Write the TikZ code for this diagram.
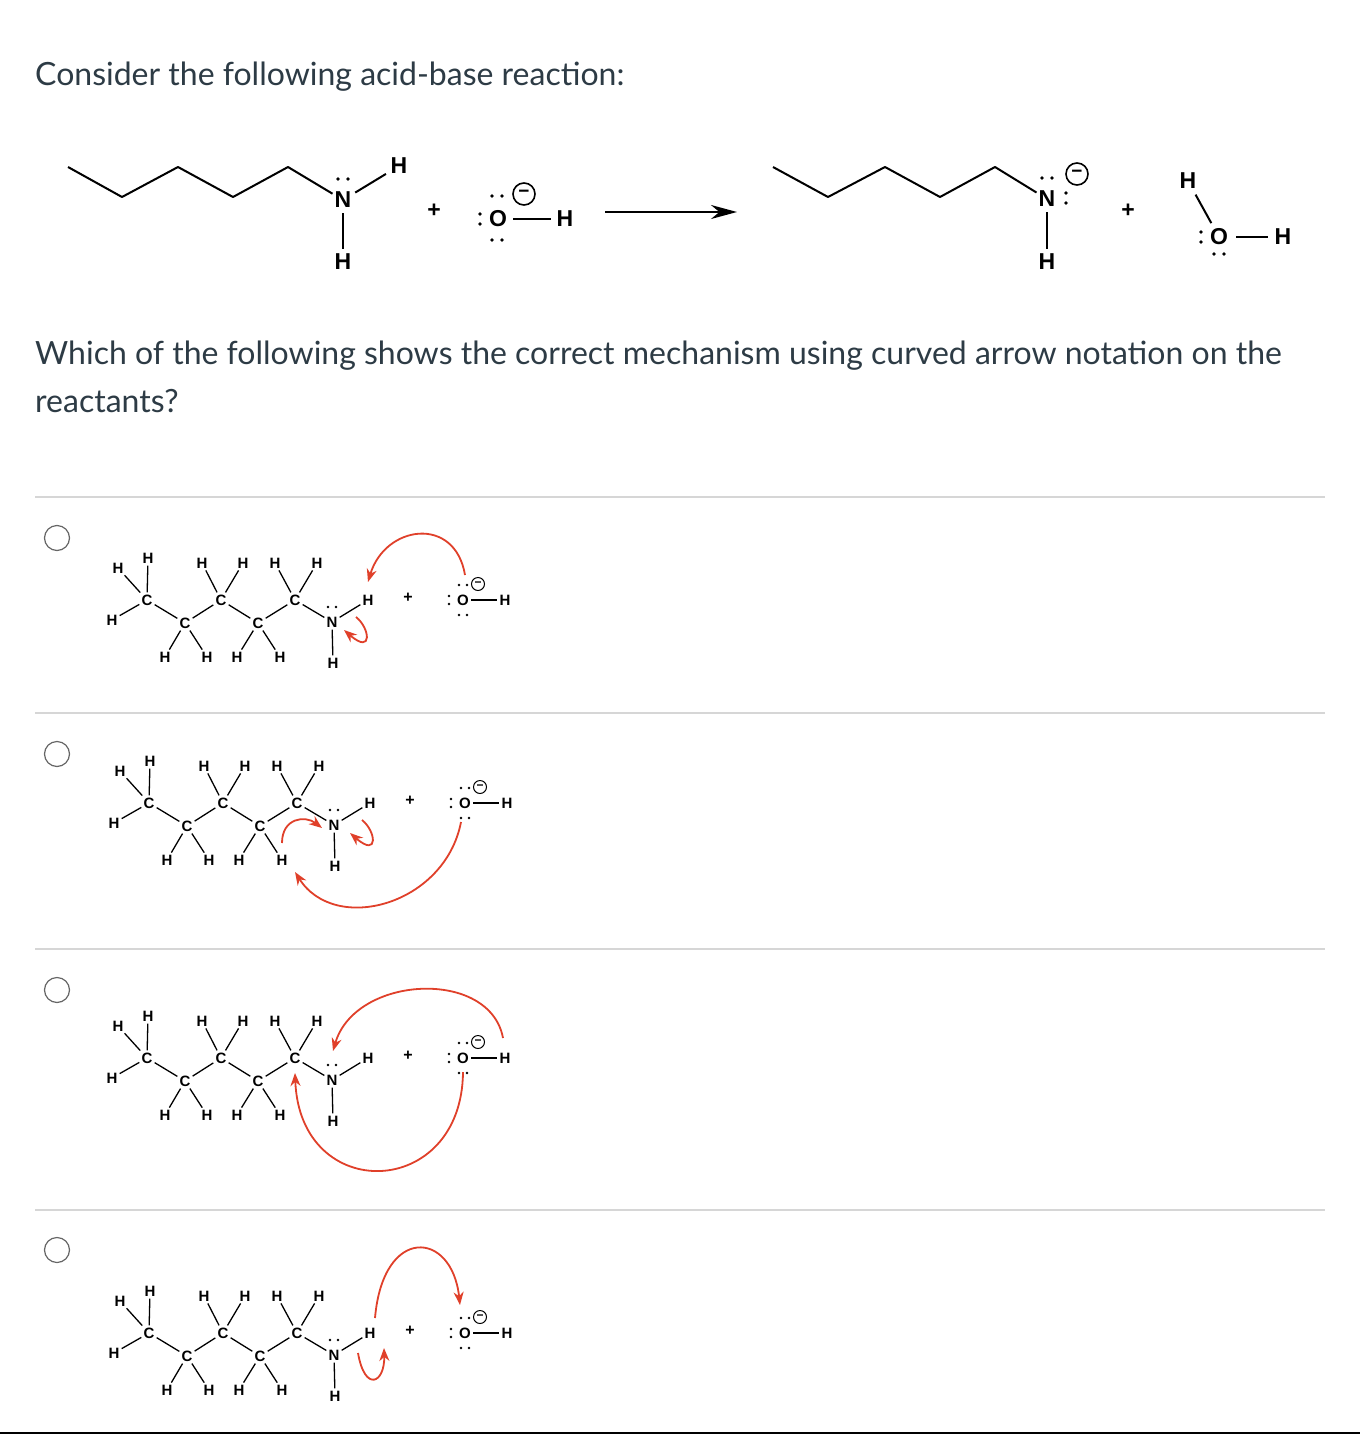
\documentclass[tikz,border=0pt]{standalone}
\usepackage{fontspec}
\setmainfont{Lato}
\newfontfamily\atomfont{Liberation Sans}
\usetikzlibrary{arrows.meta}
\definecolor{arr}{HTML}{E0402A}
\definecolor{sep}{HTML}{D6D6D6}
\definecolor{txt}{HTML}{2D3B45}
\tikzset{
 atom/.style={font=\atomfont\bfseries\fontsize{15}{15}\selectfont,inner sep=1.2pt},
 batom/.style={font=\atomfont\bfseries\fontsize{23}{23}\selectfont,inner sep=2pt},
 bond/.style={line width=1.3pt},
 bbond/.style={line width=2pt},
 ep/.style={fill,circle,inner sep=0pt,minimum size=2.6pt},
 bep/.style={fill,circle,inner sep=0pt,minimum size=3.6pt},
 minus/.style={draw,circle,line width=1pt,inner sep=0pt,minimum size=13pt,font=\atomfont\bfseries\fontsize{12}{12}\selectfont},
 bminus/.style={draw,circle,line width=1.6pt,inner sep=0pt,minimum size=22pt,font=\atomfont\bfseries\fontsize{19}{19}\selectfont},
 curved/.style={arr,line width=1.8pt,-{Stealth[length=13pt,width=10pt]}},
 radio/.style={draw=gray!80!black,line width=1.2pt,circle,minimum size=25pt,inner sep=0pt},
 para/.style={anchor=base west,text=txt,font=\fontsize{32}{32}\selectfont,inner sep=0pt}
}
\newcommand\molecule[3]{%
\begin{scope}[shift={(#2,#3)}]
\node[atom] (C1#1) at (147,600) {C};
\node[atom] (C2#1) at (185,623) {C};
\node[atom] (C3#1) at (221,600) {C};
\node[atom] (C4#1) at (258,623) {C};
\node[atom] (C5#1) at (295,600) {C};
\node[atom] (N#1) at (332,622) {N};
\node[atom] (HN#1) at (368,600) {H};
\node[atom] (HNb#1) at (333,663) {H};
\node[atom] (Ha#1) at (148,558) {H};
\node[atom] (Hb#1) at (118,568) {H};
\node[atom] (Hc#1) at (112,620) {H};
\node[atom] (Hd#1) at (165,657) {H};
\node[atom] (He#1) at (207,657) {H};
\node[atom] (Hf#1) at (202,563) {H};
\node[atom] (Hg#1) at (243,563) {H};
\node[atom] (Hh#1) at (237,657) {H};
\node[atom] (Hi#1) at (280,657) {H};
\node[atom] (Hj#1) at (275,563) {H};
\node[atom] (Hk#1) at (317,563) {H};
\node[ep] (lpa#1) at (328,607) {};
\node[ep] (lpb#1) at (336,607) {};
\node[atom,font=\atomfont\bfseries\fontsize{16}{16}\selectfont] (plus#1) at (408,598) {+};
\node[atom] (O#1) at (463,600) {O};
\node[atom] (HO#1) at (505,600) {H};
\node[ep] (ol1#1) at (449,596) {};
\node[ep] (ol2#1) at (449,604) {};
\node[ep] (ou1#1) at (459,585) {};
\node[ep] (ou2#1) at (467,585) {};
\node[ep] (od1#1) at (459,615) {};
\node[ep] (od2#1) at (467,615) {};
\node[minus] (om#1) at (478,584) {−};
\foreach \a/\b in {C1/C2,C2/C3,C3/C4,C4/C5,C5/N,N/HN,N/HNb,C1/Ha,C1/Hb,C1/Hc,C2/Hd,C2/He,C3/Hf,C3/Hg,C4/Hh,C4/Hi,C5/Hj,C5/Hk,O/HO}
  \draw[bond,shorten <=1pt,shorten >=1pt] (\a#1) -- (\b#1);
\end{scope}}
\begin{document}
\begin{tikzpicture}[x=1pt,y=-1pt]
\useasboundingbox (0,0) rectangle (1360,1435);
\fill[white] (0,0) rectangle (1360,1435);
% header text
\node[para] (t1) at (35,85) {Consider the following acid-base reaction:};
\node[para] (t2) at (35,364) {Which of the following shows the correct mechanism using curved arrow notation on the};
\node[para] (t3) at (35,412) {reactants?};
% top reactants
\coordinate (a1) at (68,167); \coordinate (a2) at (122,197); \coordinate (a3) at (178,167);
\coordinate (a4) at (233,197); \coordinate (a5) at (288,167);
\node[batom] (RN) at (343,200) {N};
\node[batom] (RH1) at (399,166) {H};
\node[batom] (RH2) at (343,262) {H};
\node[bep] (rl1) at (338,179) {}; \node[bep] (rl2) at (348,179) {};
\draw[bbond,line join=round] (a1) -- (a2) -- (a3) -- (a4) -- (a5) -- (RN);
\draw[bbond,shorten <=2pt,shorten >=3pt] (RN) -- (RH1); \draw[bbond,shorten <=3pt,shorten >=3pt] (RN) -- (RH2);
\node[batom] (rp1) at (434,211) {+};
\node[batom] (RO) at (498,219) {O};
\node[batom] (ROH) at (565,219) {H};
\draw[bbond,shorten <=4pt,shorten >=4pt] (RO) -- (ROH);
\node[bep] (ro1) at (480,214) {}; \node[bep] (ro2) at (480,224) {};
\node[bep] (ro3) at (492,196) {}; \node[bep] (ro4) at (502,196) {};
\node[bep] (ro5) at (492,240) {}; \node[bep] (ro6) at (502,240) {};
\node[bminus] (rom) at (524,194) {−};
\coordinate (arrS) at (605,212); \coordinate (arrE) at (737,212);
\draw[line width=2.2pt,-{Stealth[length=26pt,width=14pt]}] (arrS) -- (arrE);
% products
\coordinate (b1) at (773,167); \coordinate (b2) at (828,197); \coordinate (b3) at (885,167);
\coordinate (b4) at (940,197); \coordinate (b5) at (995,167);
\node[batom] (PN) at (1047,199) {N};
\node[batom] (PH) at (1047,262) {H};
\draw[bbond,line join=round] (b1) -- (b2) -- (b3) -- (b4) -- (b5) -- (PN);
\draw[bbond,shorten <=3pt,shorten >=3pt] (PN) -- (PH);
\node[bep] (pl1) at (1042,178) {}; \node[bep] (pl2) at (1052,178) {};
\node[bep] (pl3) at (1066,193) {}; \node[bep] (pl4) at (1066,203) {};
\node[bminus] (pm) at (1077,174) {−};
\node[batom] (pp) at (1128,211) {+};
\node[batom] (PO) at (1219,237) {O};
\node[batom] (POH1) at (1188,181) {H};
\node[batom] (POH2) at (1283,237) {H};
\draw[bbond,shorten <=4pt,shorten >=4pt] (PO) -- (POH1); \draw[bbond,shorten <=6pt,shorten >=5pt] (PO) -- (POH2);
\node[bep] (po1) at (1201,232) {}; \node[bep] (po2) at (1201,242) {};
\node[bep] (po3) at (1214,254) {}; \node[bep] (po4) at (1224,254) {};
% separators and radios
\foreach \y/\n in {497/s1,713/s2,949/s3,1210/s4}{
  \coordinate (\n l) at (35,\y); \coordinate (\n r) at (1325,\y);
  \draw[sep,line width=1.2pt] (\n l) -- (\n r);}
\node[radio] (r1) at (57,538) {};
\node[radio] (r2) at (57,754) {};
\node[radio] (r3) at (57,990) {};
\node[radio] (r4) at (57,1250) {};
% options
\molecule{A}{0}{0}
\molecule{B}{2}{203}
\molecule{C}{0}{458}
\molecule{D}{2}{733}
% option A arrows
\draw[curved] (465,575) .. controls (455,515) and (385,525) .. (368,582);
\draw[curved] (356,617) .. controls (370,628) and (373,655) .. (344,630);
% option B arrows
\draw[curved] (282,843) .. controls (282,818) and (305,815) .. (322,828);
\draw[curved] (362,820) .. controls (376,831) and (379,858) .. (350,833);
\draw[curved] (461,822) .. controls (445,905) and (335,935) .. (295,872);
% option C arrows
\draw[curved] (503,1038) .. controls (490,968) and (355,975) .. (333,1051);
\draw[curved] (463,1072) .. controls (462,1200) and (300,1205) .. (295,1073);
% option D arrows
\draw[curved] (375,1318) .. controls (383,1225) and (452,1230) .. (460,1305);
\draw[curved] (358,1353) .. controls (365,1393) and (385,1383) .. (384,1348);
% bottom edge
\coordinate (bl) at (0,1433); \coordinate (br) at (1360,1433);
\draw[line width=2pt] (bl) -- (br);
\end{tikzpicture}
\end{document}
